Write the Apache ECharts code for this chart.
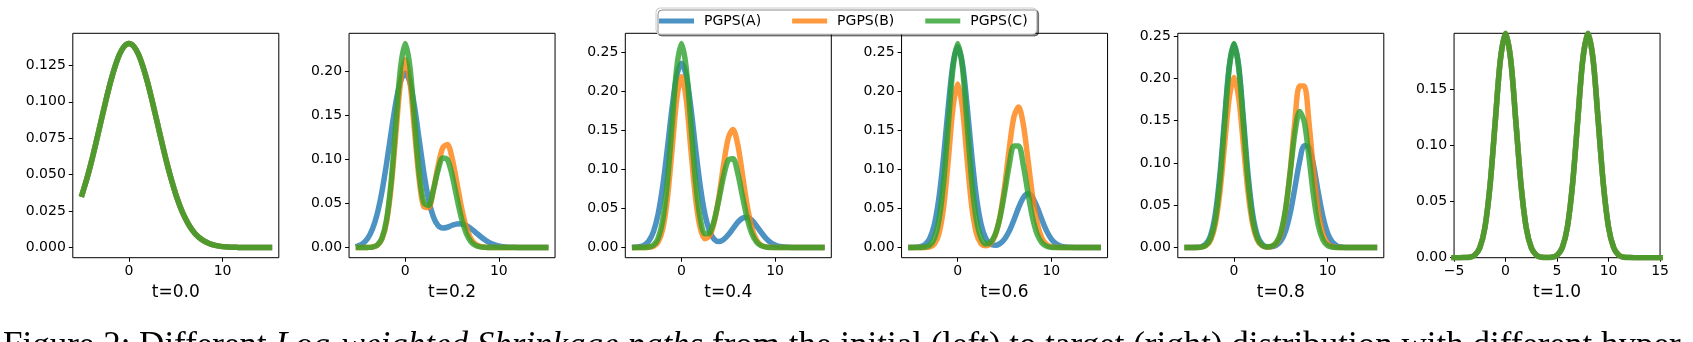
<!DOCTYPE html>
<html>
<head>
<meta charset="utf-8">
<script src="https://cdn.jsdelivr.net/npm/echarts@6/dist/echarts.min.js"></script>
<style>
html, body { margin: 0; padding: 0; background: #fff; }
#myChart { width: 1693px; height: 342px; }
</style>
</head>
<body>
<div id="myChart"></div>
<script>
// sample points shared by every panel
const xs = [-5, -4.5, -4, -3.5, -3, -2.5, -2, -1.5, -1, -0.5, 0, 0.5, 1, 1.5, 2, 2.5, 3, 3.5, 4, 4.5,
    5, 5.5, 6, 6.5, 7, 7.5, 8, 8.5, 9, 9.5, 10, 10.5, 11, 11.5, 12, 12.5, 13, 13.5, 14, 14.5, 15];

const panelTitles = ['t=0.0', 't=0.2', 't=0.4', 't=0.6', 't=0.8', 't=1.0'];
const seriesNames = ['PGPS(A)', 'PGPS(B)', 'PGPS(C)'];

// t=0.0 : all three methods share the initial distribution
const t00 = [0.0365, 0.0471, 0.0592, 0.0725, 0.0863, 0.1000, 0.1129, 0.1240, 0.1327, 0.1381, 0.1400,
    0.1381, 0.1327, 0.1240, 0.1129, 0.1000, 0.0863, 0.0725, 0.0592, 0.0471, 0.0365, 0.0275, 0.0202,
    0.0144, 0.0100, 0.0068, 0.0045, 0.0029, 0.0018, 0.0011, 0.0006, 0.0004, 0.0002, 0.0001, 0, 0, 0, 0, 0, 0, 0];

// t=0.2
const t02A = [0.0020, 0.0048, 0.0105, 0.0209, 0.0379, 0.0628, 0.0950, 0.1310, 0.1648, 0.1891, 0.1982,
    0.1877, 0.1593, 0.1217, 0.0843, 0.0544, 0.0349, 0.0249, 0.0221, 0.0230, 0.0253, 0.0268, 0.0269,
    0.0250, 0.0216, 0.0173, 0.0128, 0.0088, 0.0056, 0.0033, 0.0018, 0.0009, 0.0004, 0.0002, 0.0001, 0, 0, 0, 0, 0, 0];
const t02B = [0, 0, 0.0001, 0.0005, 0.0024, 0.0094, 0.0288, 0.0692, 0.1292, 0.1880, 0.2132,
    0.1887, 0.1316, 0.0762, 0.0461, 0.0454, 0.0651, 0.0923, 0.1132, 0.1171, 0.1019, 0.0746, 0.0459,
    0.0237, 0.0103, 0.0038, 0.0012, 0.0003, 0.0001, 0, 0, 0, 0, 0, 0, 0, 0, 0, 0, 0, 0];
const t02C = [0, 0, 0.0001, 0.0005, 0.0026, 0.0102, 0.0313, 0.0752, 0.1405, 0.2044, 0.2318,
    0.2053, 0.1434, 0.0834, 0.0505, 0.0480, 0.0651, 0.0874, 0.1017, 0.0998, 0.0825, 0.0573, 0.0334,
    0.0164, 0.0068, 0.0023, 0.0007, 0.0002, 0, 0, 0, 0, 0, 0, 0, 0, 0, 0, 0, 0, 0];

// t=0.4
const t04A = [0.0002, 0.0009, 0.0029, 0.0082, 0.0200, 0.0425, 0.0788, 0.1273, 0.1794, 0.2204, 0.2360,
    0.2204, 0.1794, 0.1273, 0.0789, 0.0428, 0.0209, 0.0104, 0.0077, 0.0103, 0.0163, 0.0242, 0.0321,
    0.0375, 0.0386, 0.0350, 0.0279, 0.0195, 0.0121, 0.0066, 0.0031, 0.0013, 0.0005, 0.0002, 0.0001, 0, 0, 0, 0, 0, 0];
const t04B = [0, 0, 0, 0.0002, 0.0015, 0.0069, 0.0239, 0.0630, 0.1259, 0.1907, 0.2190,
    0.1907, 0.1259, 0.0633, 0.0251, 0.0113, 0.0147, 0.0327, 0.0651, 0.1060, 0.1404, 0.1512, 0.1325,
    0.0944, 0.0547, 0.0258, 0.0099, 0.0031, 0.0008, 0.0002, 0, 0, 0, 0, 0, 0, 0, 0, 0, 0, 0];
const t04C = [0, 0, 0.0001, 0.0006, 0.0029, 0.0115, 0.0354, 0.0848, 0.1585, 0.2306, 0.2613,
    0.2306, 0.1586, 0.0853, 0.0373, 0.0176, 0.0188, 0.0350, 0.0617, 0.0913, 0.1120, 0.1137, 0.0955,
    0.0665, 0.0383, 0.0182, 0.0072, 0.0023, 0.0006, 0.0001, 0, 0, 0, 0, 0, 0, 0, 0, 0, 0, 0];

// t=0.6
const t06A = [0, 0.0002, 0.0010, 0.0037, 0.0113, 0.0293, 0.0641, 0.1177, 0.1816, 0.2356, 0.2570,
    0.2356, 0.1816, 0.1177, 0.0641, 0.0293, 0.0115, 0.0043, 0.0028, 0.0050, 0.0108, 0.0210, 0.0353,
    0.0511, 0.0638, 0.0687, 0.0638, 0.0511, 0.0353, 0.0210, 0.0108, 0.0048, 0.0018, 0.0006, 0.0002, 0, 0, 0, 0, 0, 0];
const t06B = [0, 0, 0, 0.0001, 0.0008, 0.0044, 0.0177, 0.0522, 0.1130, 0.1795, 0.2095,
    0.1795, 0.1130, 0.0522, 0.0177, 0.0047, 0.0022, 0.0053, 0.0157, 0.0387, 0.0775, 0.1263, 0.1672,
    0.1801, 0.1578, 0.1125, 0.0652, 0.0307, 0.0118, 0.0037, 0.0009, 0.0002, 0, 0, 0, 0, 0, 0, 0, 0, 0];
const t06C = [0, 0, 0.0001, 0.0006, 0.0029, 0.0115, 0.0354, 0.0848, 0.1585, 0.2306, 0.2613,
    0.2306, 0.1585, 0.0848, 0.0354, 0.0119, 0.0046, 0.0065, 0.0166, 0.0377, 0.0700, 0.1058, 0.1301,
    0.1301, 0.1058, 0.0700, 0.0377, 0.0165, 0.0059, 0.0017, 0.0004, 0.0001, 0, 0, 0, 0, 0, 0, 0, 0, 0];

// t=0.8
const t08A = [0, 0, 0.0002, 0.0009, 0.0040, 0.0140, 0.0390, 0.0865, 0.1527, 0.2147, 0.2405,
    0.2147, 0.1527, 0.0865, 0.0390, 0.0140, 0.0040, 0.0010, 0.0009, 0.0025, 0.0076, 0.0193, 0.0405,
    0.0704, 0.1012, 0.1204, 0.1186, 0.0967, 0.0652, 0.0365, 0.0169, 0.0065, 0.0020, 0.0005, 0.0001, 0, 0, 0, 0, 0, 0];
const t08B = [0, 0, 0.0001, 0.0004, 0.0022, 0.0088, 0.0272, 0.0653, 0.1219, 0.1774, 0.2010,
    0.1774, 0.1219, 0.0653, 0.0272, 0.0088, 0.0022, 0.0006, 0.0011, 0.0045, 0.0157, 0.0426, 0.0902,
    0.1487, 0.1909, 0.1909, 0.1487, 0.0902, 0.0426, 0.0157, 0.0045, 0.0010, 0.0002, 0, 0, 0, 0, 0, 0, 0, 0];
const t08C = [0, 0, 0.0001, 0.0005, 0.0027, 0.0106, 0.0326, 0.0783, 0.1462, 0.2128, 0.2411,
    0.2128, 0.1462, 0.0783, 0.0326, 0.0106, 0.0027, 0.0007, 0.0014, 0.0055, 0.0178, 0.0449, 0.0881,
    0.1348, 0.1606, 0.1490, 0.1077, 0.0606, 0.0265, 0.0091, 0.0024, 0.0005, 0.0001, 0, 0, 0, 0, 0, 0, 0, 0];

// t=1.0 : target, identical for all methods
const t10 = [0, 0, 0.0001, 0.0004, 0.0022, 0.0088, 0.0270, 0.0648, 0.1210, 0.1761, 0.1995,
    0.1761, 0.1210, 0.0648, 0.0270, 0.0088, 0.0022, 0.0004, 0.0002, 0.0004, 0.0022, 0.0088, 0.0270,
    0.0648, 0.1210, 0.1761, 0.1995, 0.1761, 0.1210, 0.0648, 0.0270, 0.0088, 0.0022, 0.0004, 0.0001, 0, 0, 0, 0, 0, 0];

// tick labels
const xTicks = [0, 10];
const xTicksLast = [-5, 0, 5, 10, 15];
const yTicks0 = [0, 0.025, 0.05, 0.075, 0.1, 0.125];
const yTicks1 = [0, 0.05, 0.1, 0.15, 0.2];
const yTicks2 = [0, 0.05, 0.1, 0.15, 0.2, 0.25];
const yTicks5 = [0, 0.05, 0.1, 0.15];

const panelCurves = [
    [t00, t00, t00],
    [t02A, t02B, t02C],
    [t04A, t04B, t04C],
    [t06A, t06B, t06C],
    [t08A, t08B, t08C],
    [t10, t10, t10]
];
const panelYTicks = [yTicks0, yTicks1, yTicks2, yTicks2, yTicks2, yTicks5];
const panelDigits = [3, 2, 2, 2, 2, 2];

const colors = ['#1f77b4', '#ff7f0e', '#2ca02c'];
const font = 'DejaVu Sans';

let myChart = echarts.init(document.getElementById('myChart'));

let grids = [], xAxes = [], yAxes = [], series = [];
for (let i = 0; i < 6; i++) {
    let last = i === 5;
    grids.push({
        left: 72.8 + i * 276.25,
        top: 33.3,
        width: 206,
        height: 224.4,
        show: true,
        borderColor: '#000',
        borderWidth: 1,
        containLabel: false,
        outerBoundsMode: 'none'
    });
    xAxes.push({
        type: 'value',
        gridIndex: i,
        position: 'bottom',
        min: last ? -5 : -6,
        max: last ? 15 : 16,
        name: panelTitles[i],
        nameLocation: 'middle',
        nameGap: 25,
        nameTextStyle: { fontSize: 17, color: '#000', fontFamily: font },
        axisLine: { show: false, onZero: false },
        splitLine: { show: false },
        axisTick: {
            show: true, inside: false, length: 4,
            customValues: last ? xTicksLast : xTicks,
            lineStyle: { color: '#000', width: 1 }
        },
        axisLabel: {
            margin: 7,
            fontSize: 14,
            color: '#000',
            fontFamily: font,
            customValues: last ? xTicksLast : xTicks,
            formatter: v => String(v).replace('-', '\u2212')
        }
    });
    let d = panelDigits[i];
    yAxes.push({
        type: 'value',
        gridIndex: i,
        position: 'left',
        min: last ? 0 : v => v.min - 0.05 * (v.max - v.min),
        max: last ? v => v.max : v => v.max + 0.05 * (v.max - v.min),
        axisLine: { show: false, onZero: false },
        splitLine: { show: false },
        axisTick: {
            show: true, inside: false, length: 4,
            customValues: panelYTicks[i],
            lineStyle: { color: '#000', width: 1 }
        },
        axisLabel: {
            margin: 7,
            fontSize: 14,
            color: '#000',
            fontFamily: font,
            customValues: panelYTicks[i],
            formatter: v => v.toFixed(d)
        }
    });
    for (let j = 0; j < 3; j++) {
        let ys = panelCurves[i][j];
        series.push({
            type: 'line',
            name: seriesNames[j],
            xAxisIndex: i,
            yAxisIndex: i,
            data: xs.map((x, k) => [x, ys[k]]),
            symbol: 'none',
            showSymbol: false,
            smooth: 0.3,
            clip: true,
            itemStyle: { color: colors[j] },
            lineStyle: { color: colors[j], width: 5.5, opacity: 0.8, cap: 'square', join: 'round' },
            emphasis: { disabled: true }
        });
    }
}

let option = {
    animation: false,
    backgroundColor: '#fff',
    grid: grids,
    xAxis: xAxes,
    yAxis: yAxes,
    series: series,
    legend: {
        data: seriesNames,
        orient: 'horizontal',
        left: 656,
        top: 8,
        padding: [5, 9, 5, 3],
        itemGap: 31,
        itemWidth: 35,
        itemHeight: 5,
        icon: 'rect',
        itemStyle: { opacity: 0.8 },
        backgroundColor: '#fff',
        borderColor: '#ccc',
        borderWidth: 1,
        borderRadius: 4,
        shadowColor: 'rgba(0,0,0,0.45)',
        shadowOffsetX: 2,
        shadowOffsetY: 2,
        shadowBlur: 0,
        selectedMode: false,
        z: 10,
        textStyle: { fontSize: 14, color: '#000', fontFamily: font, padding: [0, 0, 0, 5], lineHeight: 16 }
    },
    graphic: [{
        type: 'text',
        x: 3,
        y: 347,
        silent: true,
        style: {
            text: '{n|Figure 2: Different }{i|Log-weighted Shrinkage paths}{n| from the initial (left) to target (right) distribution with different hyper}',
            verticalAlign: 'middle',
            rich: {
                n: { fontFamily: 'Liberation Serif', fontSize: 35, fill: '#000' },
                i: { fontFamily: 'Liberation Serif', fontSize: 35, fontStyle: 'italic', fill: '#000' }
            }
        }
    }]
};
myChart.setOption(option);
</script>
</body>
</html>
